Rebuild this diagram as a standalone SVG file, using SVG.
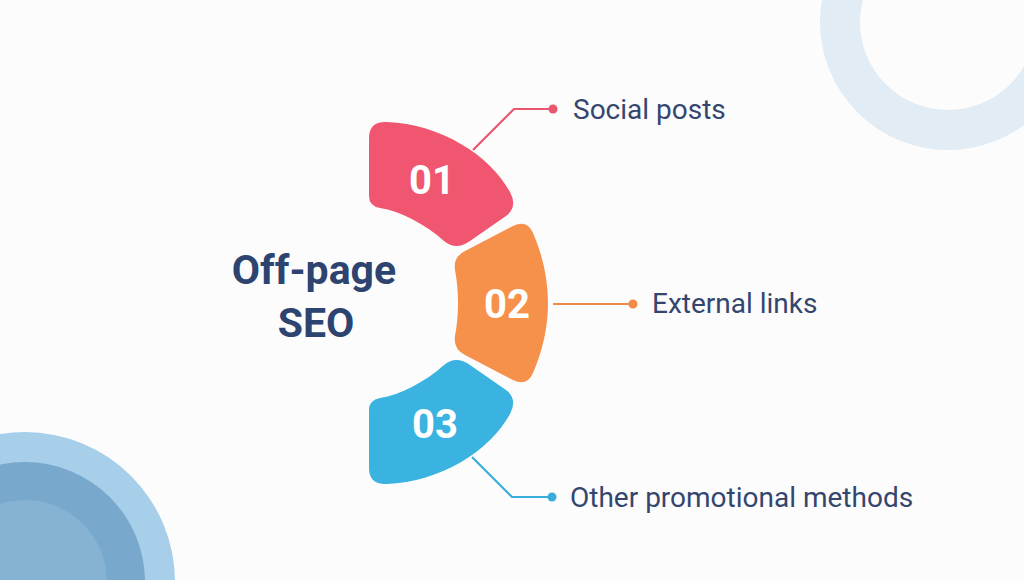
<svg xmlns="http://www.w3.org/2000/svg" width="1024" height="580" viewBox="0 0 1024 580">
  <style>
    .num { font-family: Roboto, "Liberation Sans", sans-serif; font-weight: 700; font-size: 40px; fill: #ffffff; text-anchor: middle; }
    .title { font-family: Roboto, "Liberation Sans", sans-serif; font-weight: 700; font-size: 41px; fill: #2d4470; text-anchor: middle; }
    .label { font-family: Roboto, "Liberation Sans", sans-serif; font-size: 28px; fill: #34466e; }
    .conn { fill: none; stroke-width: 2.2; }
  </style>
  <rect width="1024" height="580" fill="#fcfcfc"/>
  <!-- decorative rings -->
  <circle cx="948" cy="22" r="108" fill="none" stroke="#e2ecf4" stroke-width="40"/>
  <circle cx="25" cy="582" r="150" fill="#a8cfea"/>
  <circle cx="25" cy="582" r="120" fill="#78a8cb"/>
  <circle cx="25" cy="582" r="82" fill="#86b2d3"/>

  <g id="title">
    <text class="title" x="314" y="284">Off-page</text>
    <text class="title" x="316" y="337">SEO</text>
  </g>

  <g id="node01">
    <path fill="#f0566f" d="M 369,138 Q 369,121 387,122 C 440,124 490,155 510,192 Q 518,207 506,216 L 470,241 Q 456,251 444,241 C 425,224 400,211 380,208 Q 369,206 369,196 Z"/>
    <text class="num" x="432" y="194">01</text>
  </g>
  <g id="node02">
    <path fill="#f5914a" d="M 455,270 Q 453,257 465,251 L 513,226 Q 527,219 533,233 C 543,256 548,280 548,303 C 548,326 543,350 533,373 Q 527,387 513,380 L 465,355 Q 453,349 455,336 C 459,315 459,291 455,270 Z"/>
    <text class="num" x="507" y="318">02</text>
  </g>
  <g id="node03">
    <path fill="#3bb3e0" transform="translate(0,606) scale(1,-1)" d="M 369,138 Q 369,121 387,122 C 440,124 490,155 510,192 Q 518,207 506,216 L 470,241 Q 456,251 444,241 C 425,224 400,211 380,208 Q 369,206 369,196 Z"/>
    <text class="num" x="435" y="438">03</text>
  </g>

  <g id="connectors">
    <polyline class="conn" stroke="#e9566e" points="473,150 514,109 553,109"/>
    <circle cx="553" cy="109" r="4.5" fill="#e9566e"/>
    <line class="conn" stroke="#f08c48" x1="553" y1="304" x2="633" y2="304"/>
    <circle cx="633" cy="304" r="4.5" fill="#f08c48"/>
    <polyline class="conn" stroke="#3aaedb" points="472,457 512,497 552,497"/>
    <circle cx="552" cy="497" r="4.5" fill="#3aaedb"/>
  </g>

  <g id="labels">
    <text class="label" x="573" y="119">Social posts</text>
    <text class="label" x="652" y="313">External links</text>
    <text class="label" x="570" y="507">Other promotional methods</text>
  </g>
</svg>
